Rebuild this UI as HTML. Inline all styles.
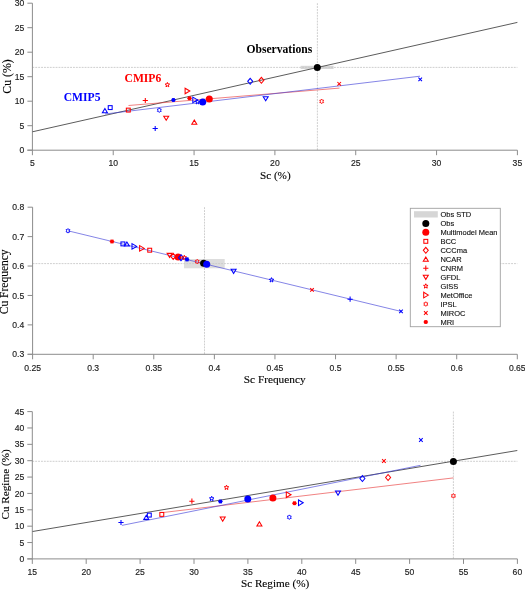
<!DOCTYPE html>
<html><head><meta charset="utf-8"><style>
html,body{margin:0;padding:0;background:#fff;width:525px;height:590px;overflow:hidden}
svg{display:block;will-change:transform}
</style></head><body>
<svg width="525" height="590" viewBox="0 0 525 590">
<defs>
<symbol id="sq" overflow="visible"><rect x="-1.95" y="-1.95" width="3.9" height="3.9" fill="none" stroke="currentColor" stroke-width="1.05"/></symbol>
<symbol id="di" overflow="visible"><polygon points="0,-3 2.5,0 0,3 -2.5,0" fill="none" stroke="currentColor" stroke-width="1.05"/></symbol>
<symbol id="tu" overflow="visible"><polygon points="0,-2.2 2.5,1.95 -2.5,1.95" fill="none" stroke="currentColor" stroke-width="1.05"/></symbol>
<symbol id="td" overflow="visible"><polygon points="0,2.2 2.5,-1.95 -2.5,-1.95" fill="none" stroke="currentColor" stroke-width="1.05"/></symbol>
<symbol id="tr" overflow="visible"><polygon points="2.6,0 -2.1,-2.8 -2.1,2.8" fill="none" stroke="currentColor" stroke-width="1.05"/></symbol>
<symbol id="pl" overflow="visible"><path d="M-2.6,0H2.6M0,-2.6V2.6" stroke="currentColor" stroke-width="1.05"/></symbol>
<symbol id="xx" overflow="visible"><path d="M-1.8,-1.8L1.8,1.8M-1.8,1.8L1.8,-1.8" stroke="currentColor" stroke-width="1.05"/></symbol>
<symbol id="st" overflow="visible"><path d="M0,-2.35 L0.62,-0.8 L2.25,-0.74 L1.0,0.35 L1.42,2.0 L0,1.12 L-1.42,2.0 L-1.0,0.35 L-2.25,-0.74 L-0.62,-0.8Z" fill="none" stroke="currentColor" stroke-width="1"/></symbol>
<symbol id="hx" overflow="visible"><path d="M0,-2.3 L0.7,-1.2 L1.95,-1.2 L1.35,0 L1.95,1.2 L0.7,1.2 L0,2.3 L-0.7,1.2 L-1.95,1.2 L-1.35,0 L-1.95,-1.2 L-0.7,-1.2Z" fill="none" stroke="currentColor" stroke-width="0.85"/></symbol>
<symbol id="as" overflow="visible"><circle r="2.05" fill="currentColor"/><path d="M-2.3,0H2.3M-1.15,-2L1.15,2M-1.15,2L1.15,-2" stroke="currentColor" stroke-width="0.6"/></symbol>
<symbol id="fc" overflow="visible"><circle r="3.5" fill="currentColor"/></symbol>
</defs>
<rect width="525" height="590" fill="#fff"/>
<rect x="300.6" y="65.8" width="33" height="3.2" fill="#d6d6d6"/>
<path d="M32.4,67.4H517.4" stroke="#cacaca" stroke-width="0.9" stroke-dasharray="1.9,1"/>
<path d="M317.4,3.2V150.2" stroke="#cacaca" stroke-width="0.9" stroke-dasharray="1.9,1"/>
<path d="M32.4,3.2V150.2M27.4,150.2H517.4" stroke="#8c8c8c" stroke-width="1" fill="none"/>
<path d="M27.4,150.2H32.4" stroke="#8c8c8c" stroke-width="1"/>
<path d="M27.4,125.69999999999999H32.4" stroke="#8c8c8c" stroke-width="1"/>
<path d="M27.4,101.19999999999999H32.4" stroke="#8c8c8c" stroke-width="1"/>
<path d="M27.4,76.69999999999999H32.4" stroke="#8c8c8c" stroke-width="1"/>
<path d="M27.4,52.19999999999999H32.4" stroke="#8c8c8c" stroke-width="1"/>
<path d="M27.4,27.69999999999999H32.4" stroke="#8c8c8c" stroke-width="1"/>
<path d="M27.4,3.1999999999999886H32.4" stroke="#8c8c8c" stroke-width="1"/>
<path d="M32.4,150.2V155.2" stroke="#8c8c8c" stroke-width="1"/>
<path d="M113.23333333333332,150.2V155.2" stroke="#8c8c8c" stroke-width="1"/>
<path d="M194.06666666666666,150.2V155.2" stroke="#8c8c8c" stroke-width="1"/>
<path d="M274.9,150.2V155.2" stroke="#8c8c8c" stroke-width="1"/>
<path d="M355.7333333333333,150.2V155.2" stroke="#8c8c8c" stroke-width="1"/>
<path d="M436.5666666666666,150.2V155.2" stroke="#8c8c8c" stroke-width="1"/>
<path d="M517.4,150.2V155.2" stroke="#8c8c8c" stroke-width="1"/>
<text x="32.4" y="166.2" font-family='"Liberation Sans", sans-serif' font-size="8.6" text-anchor="middle" fill="#222" font-weight="normal" stroke="#222" stroke-width="0.15" >5</text>
<text x="113.23333333333332" y="166.2" font-family='"Liberation Sans", sans-serif' font-size="8.6" text-anchor="middle" fill="#222" font-weight="normal" stroke="#222" stroke-width="0.15" >10</text>
<text x="194.06666666666666" y="166.2" font-family='"Liberation Sans", sans-serif' font-size="8.6" text-anchor="middle" fill="#222" font-weight="normal" stroke="#222" stroke-width="0.15" >15</text>
<text x="274.9" y="166.2" font-family='"Liberation Sans", sans-serif' font-size="8.6" text-anchor="middle" fill="#222" font-weight="normal" stroke="#222" stroke-width="0.15" >20</text>
<text x="355.7333333333333" y="166.2" font-family='"Liberation Sans", sans-serif' font-size="8.6" text-anchor="middle" fill="#222" font-weight="normal" stroke="#222" stroke-width="0.15" >25</text>
<text x="436.5666666666666" y="166.2" font-family='"Liberation Sans", sans-serif' font-size="8.6" text-anchor="middle" fill="#222" font-weight="normal" stroke="#222" stroke-width="0.15" >30</text>
<text x="517.4" y="166.2" font-family='"Liberation Sans", sans-serif' font-size="8.6" text-anchor="middle" fill="#222" font-weight="normal" stroke="#222" stroke-width="0.15" >35</text>
<text x="24.2" y="153.29999999999998" font-family='"Liberation Sans", sans-serif' font-size="8.6" text-anchor="end" fill="#222" font-weight="normal" stroke="#222" stroke-width="0.15" >0</text>
<text x="24.2" y="128.79999999999998" font-family='"Liberation Sans", sans-serif' font-size="8.6" text-anchor="end" fill="#222" font-weight="normal" stroke="#222" stroke-width="0.15" >5</text>
<text x="24.2" y="104.29999999999998" font-family='"Liberation Sans", sans-serif' font-size="8.6" text-anchor="end" fill="#222" font-weight="normal" stroke="#222" stroke-width="0.15" >10</text>
<text x="24.2" y="79.79999999999998" font-family='"Liberation Sans", sans-serif' font-size="8.6" text-anchor="end" fill="#222" font-weight="normal" stroke="#222" stroke-width="0.15" >15</text>
<text x="24.2" y="55.29999999999999" font-family='"Liberation Sans", sans-serif' font-size="8.6" text-anchor="end" fill="#222" font-weight="normal" stroke="#222" stroke-width="0.15" >20</text>
<text x="24.2" y="30.79999999999999" font-family='"Liberation Sans", sans-serif' font-size="8.6" text-anchor="end" fill="#222" font-weight="normal" stroke="#222" stroke-width="0.15" >25</text>
<text x="24.2" y="6.299999999999988" font-family='"Liberation Sans", sans-serif' font-size="8.6" text-anchor="end" fill="#222" font-weight="normal" stroke="#222" stroke-width="0.15" >30</text>
<path d="M32.4,131.8L517.4,22.4" stroke="#5c5c5c" stroke-width="1"/>
<path d="M128.5,105.5L339.5,88.1" stroke="#e83a3a" stroke-width="0.8" stroke-opacity="0.8"/>
<path d="M105,114L420,76.2" stroke="#3f3fd8" stroke-width="0.8" stroke-opacity="0.8"/>
<use href="#tu" x="104.9" y="110.7" color="#0000ff"/>
<use href="#sq" x="110.2" y="107.6" color="#0000ff"/>
<use href="#sq" x="128.3" y="110.1" color="#ff0000"/>
<use href="#pl" x="145.3" y="100.5" color="#ff0000"/>
<use href="#hx" x="159.3" y="110.2" color="#0000ff"/>
<use href="#pl" x="155.2" y="128.5" color="#0000ff"/>
<use href="#td" x="166.2" y="118.1" color="#ff0000"/>
<use href="#st" x="167.4" y="84.8" color="#ff0000"/>
<use href="#as" x="173.4" y="100" color="#0000ff"/>
<use href="#tr" x="187.2" y="91" color="#ff0000"/>
<use href="#as" x="189.5" y="98.3" color="#ff0000"/>
<use href="#tu" x="194.3" y="122.3" color="#ff0000"/>
<use href="#tr" x="194.9" y="99.9" color="#0000ff"/>
<use href="#st" x="197.5" y="102" color="#0000ff"/>
<use href="#fc" x="202.7" y="102.1" color="#0000ff"/>
<use href="#fc" x="209.3" y="99" color="#ff0000"/>
<use href="#di" x="250.2" y="81.3" color="#0000ff"/>
<use href="#di" x="261.4" y="80.3" color="#ff0000"/>
<use href="#td" x="265.7" y="98.6" color="#0000ff"/>
<use href="#xx" x="339.2" y="83.8" color="#ff0000"/>
<use href="#hx" x="321.7" y="101.4" color="#ff0000"/>
<use href="#xx" x="420.2" y="79.4" color="#0000ff"/>
<use href="#fc" x="317.3" y="67.4" color="#000"/>
<text x="279.3" y="52.5" font-family='"Liberation Serif", serif' font-size="11.6" text-anchor="middle" fill="#000" font-weight="bold" >Observations</text>
<text x="142.9" y="81.6" font-family='"Liberation Serif", serif' font-size="11.6" text-anchor="middle" fill="#ff0000" font-weight="bold" >CMIP6</text>
<text x="82.1" y="101" font-family='"Liberation Serif", serif' font-size="11.6" text-anchor="middle" fill="#0000ff" font-weight="bold" >CMIP5</text>
<text x="275.3" y="179" font-family='"Liberation Serif", serif' font-size="11.2" text-anchor="middle" fill="#000" font-weight="normal" stroke="#000" stroke-width="0.12" >Sc (%)</text>
<text x="0" y="0" font-family='"Liberation Serif", serif' font-size="11.8" text-anchor="middle" fill="#000" font-weight="normal" stroke="#000" stroke-width="0.12" transform="translate(10.6,76.5) rotate(-90)">Cu (%)</text>
<rect x="184" y="259" width="40.7" height="9.3" fill="#dddddd"/>
<path d="M32.6,263.6H517.3" stroke="#cacaca" stroke-width="0.9" stroke-dasharray="1.9,1"/>
<path d="M204.5,207.2V354.3" stroke="#cacaca" stroke-width="0.9" stroke-dasharray="1.9,1"/>
<path d="M32.6,207.2V354.3M27.6,354.3H517.3" stroke="#8c8c8c" stroke-width="1" fill="none"/>
<path d="M27.6,354.3H32.6" stroke="#8c8c8c" stroke-width="1"/>
<path d="M27.6,324.88H32.6" stroke="#8c8c8c" stroke-width="1"/>
<path d="M27.6,295.46000000000004H32.6" stroke="#8c8c8c" stroke-width="1"/>
<path d="M27.6,266.04H32.6" stroke="#8c8c8c" stroke-width="1"/>
<path d="M27.6,236.62H32.6" stroke="#8c8c8c" stroke-width="1"/>
<path d="M27.6,207.20000000000002H32.6" stroke="#8c8c8c" stroke-width="1"/>
<path d="M32.6,354.3V359.3" stroke="#8c8c8c" stroke-width="1"/>
<path d="M93.1875,354.3V359.3" stroke="#8c8c8c" stroke-width="1"/>
<path d="M153.775,354.3V359.3" stroke="#8c8c8c" stroke-width="1"/>
<path d="M214.36249999999998,354.3V359.3" stroke="#8c8c8c" stroke-width="1"/>
<path d="M274.95,354.3V359.3" stroke="#8c8c8c" stroke-width="1"/>
<path d="M335.5375,354.3V359.3" stroke="#8c8c8c" stroke-width="1"/>
<path d="M396.125,354.3V359.3" stroke="#8c8c8c" stroke-width="1"/>
<path d="M456.71250000000003,354.3V359.3" stroke="#8c8c8c" stroke-width="1"/>
<path d="M517.3,354.3V359.3" stroke="#8c8c8c" stroke-width="1"/>
<text x="32.6" y="370.8" font-family='"Liberation Sans", sans-serif' font-size="8.6" text-anchor="middle" fill="#222" font-weight="normal" stroke="#222" stroke-width="0.15" >0.25</text>
<text x="93.1875" y="370.8" font-family='"Liberation Sans", sans-serif' font-size="8.6" text-anchor="middle" fill="#222" font-weight="normal" stroke="#222" stroke-width="0.15" >0.3</text>
<text x="153.775" y="370.8" font-family='"Liberation Sans", sans-serif' font-size="8.6" text-anchor="middle" fill="#222" font-weight="normal" stroke="#222" stroke-width="0.15" >0.35</text>
<text x="214.36249999999998" y="370.8" font-family='"Liberation Sans", sans-serif' font-size="8.6" text-anchor="middle" fill="#222" font-weight="normal" stroke="#222" stroke-width="0.15" >0.4</text>
<text x="274.95" y="370.8" font-family='"Liberation Sans", sans-serif' font-size="8.6" text-anchor="middle" fill="#222" font-weight="normal" stroke="#222" stroke-width="0.15" >0.45</text>
<text x="335.5375" y="370.8" font-family='"Liberation Sans", sans-serif' font-size="8.6" text-anchor="middle" fill="#222" font-weight="normal" stroke="#222" stroke-width="0.15" >0.5</text>
<text x="396.125" y="370.8" font-family='"Liberation Sans", sans-serif' font-size="8.6" text-anchor="middle" fill="#222" font-weight="normal" stroke="#222" stroke-width="0.15" >0.55</text>
<text x="456.71250000000003" y="370.8" font-family='"Liberation Sans", sans-serif' font-size="8.6" text-anchor="middle" fill="#222" font-weight="normal" stroke="#222" stroke-width="0.15" >0.6</text>
<text x="517.3" y="370.8" font-family='"Liberation Sans", sans-serif' font-size="8.6" text-anchor="middle" fill="#222" font-weight="normal" stroke="#222" stroke-width="0.15" >0.65</text>
<text x="24.2" y="357.40000000000003" font-family='"Liberation Sans", sans-serif' font-size="8.6" text-anchor="end" fill="#222" font-weight="normal" stroke="#222" stroke-width="0.15" >0.3</text>
<text x="24.2" y="327.98" font-family='"Liberation Sans", sans-serif' font-size="8.6" text-anchor="end" fill="#222" font-weight="normal" stroke="#222" stroke-width="0.15" >0.4</text>
<text x="24.2" y="298.56000000000006" font-family='"Liberation Sans", sans-serif' font-size="8.6" text-anchor="end" fill="#222" font-weight="normal" stroke="#222" stroke-width="0.15" >0.5</text>
<text x="24.2" y="269.14000000000004" font-family='"Liberation Sans", sans-serif' font-size="8.6" text-anchor="end" fill="#222" font-weight="normal" stroke="#222" stroke-width="0.15" >0.6</text>
<text x="24.2" y="239.72" font-family='"Liberation Sans", sans-serif' font-size="8.6" text-anchor="end" fill="#222" font-weight="normal" stroke="#222" stroke-width="0.15" >0.7</text>
<text x="24.2" y="210.3" font-family='"Liberation Sans", sans-serif' font-size="8.6" text-anchor="end" fill="#222" font-weight="normal" stroke="#222" stroke-width="0.15" >0.8</text>
<path d="M68,230.8L401,311.4" stroke="#3f3fd8" stroke-width="0.8" stroke-opacity="0.8"/>
<use href="#hx" x="68" y="230.8" color="#0000ff"/>
<use href="#as" x="112" y="241.5" color="#ff0000"/>
<use href="#sq" x="122.9" y="243.9" color="#0000ff"/>
<use href="#tu" x="126.9" y="244.1" color="#0000ff"/>
<use href="#tr" x="134.1" y="246.4" color="#0000ff"/>
<use href="#tr" x="141.7" y="248.4" color="#ff0000"/>
<use href="#sq" x="149.7" y="250.2" color="#ff0000"/>
<use href="#td" x="169.6" y="255.3" color="#ff0000"/>
<use href="#di" x="173.2" y="256.4" color="#ff0000"/>
<use href="#fc" x="178.1" y="257.1" color="#ff0000"/>
<use href="#di" x="181" y="257.7" color="#0000ff"/>
<use href="#st" x="184.3" y="257.6" color="#ff0000"/>
<use href="#as" x="187" y="259.4" color="#0000ff"/>
<use href="#hx" x="197.2" y="261.6" color="#ff0000"/>
<use href="#fc" x="203.6" y="263.3" color="#000"/>
<use href="#fc" x="206.7" y="264.3" color="#0000ff"/>
<use href="#td" x="233.6" y="271.2" color="#0000ff"/>
<use href="#st" x="271.5" y="280" color="#0000ff"/>
<use href="#xx" x="312" y="289.9" color="#ff0000"/>
<use href="#pl" x="350.1" y="299.2" color="#0000ff"/>
<use href="#xx" x="401" y="311.4" color="#0000ff"/>
<text x="274.7" y="383.2" font-family='"Liberation Serif", serif' font-size="11.3" text-anchor="middle" fill="#000" font-weight="normal" stroke="#000" stroke-width="0.12" >Sc Frequency</text>
<text x="0" y="0" font-family='"Liberation Serif", serif' font-size="11.5" text-anchor="middle" fill="#000" font-weight="normal" stroke="#000" stroke-width="0.12" transform="translate(8.3,281.8) rotate(-90)">Cu Frequency</text>
<rect x="410.3" y="208.3" width="90" height="118.4" fill="#fff" stroke="#a0a0a0" stroke-width="0.9"/>
<rect x="414" y="211.2" width="23.8" height="6.3" fill="#d6d6d6"/>
<text x="440.4" y="217.14999999999998" font-family='"Liberation Sans", sans-serif' font-size="7.5" text-anchor="start" fill="#111" font-weight="normal" stroke="#111" stroke-width="0.12" >Obs STD</text>
<use href="#fc" x="425.8" y="223.41" color="#000"/>
<text x="440.4" y="226.10999999999999" font-family='"Liberation Sans", sans-serif' font-size="7.5" text-anchor="start" fill="#111" font-weight="normal" stroke="#111" stroke-width="0.12" >Obs</text>
<use href="#fc" x="425.8" y="232.37" color="#ff0000"/>
<text x="440.4" y="235.07" font-family='"Liberation Sans", sans-serif' font-size="7.5" text-anchor="start" fill="#111" font-weight="normal" stroke="#111" stroke-width="0.12" >Multimodel Mean</text>
<use href="#sq" x="425.8" y="241.32999999999998" color="#ff0000"/>
<text x="440.4" y="244.02999999999997" font-family='"Liberation Sans", sans-serif' font-size="7.5" text-anchor="start" fill="#111" font-weight="normal" stroke="#111" stroke-width="0.12" >BCC</text>
<use href="#di" x="425.8" y="250.29" color="#ff0000"/>
<text x="440.4" y="252.98999999999998" font-family='"Liberation Sans", sans-serif' font-size="7.5" text-anchor="start" fill="#111" font-weight="normal" stroke="#111" stroke-width="0.12" >CCCma</text>
<use href="#tu" x="425.8" y="259.25" color="#ff0000"/>
<text x="440.4" y="261.95" font-family='"Liberation Sans", sans-serif' font-size="7.5" text-anchor="start" fill="#111" font-weight="normal" stroke="#111" stroke-width="0.12" >NCAR</text>
<use href="#pl" x="425.8" y="268.21" color="#ff0000"/>
<text x="440.4" y="270.90999999999997" font-family='"Liberation Sans", sans-serif' font-size="7.5" text-anchor="start" fill="#111" font-weight="normal" stroke="#111" stroke-width="0.12" >CNRM</text>
<use href="#td" x="425.8" y="277.17" color="#ff0000"/>
<text x="440.4" y="279.87" font-family='"Liberation Sans", sans-serif' font-size="7.5" text-anchor="start" fill="#111" font-weight="normal" stroke="#111" stroke-width="0.12" >GFDL</text>
<use href="#st" x="425.8" y="286.13" color="#ff0000"/>
<text x="440.4" y="288.83" font-family='"Liberation Sans", sans-serif' font-size="7.5" text-anchor="start" fill="#111" font-weight="normal" stroke="#111" stroke-width="0.12" >GISS</text>
<use href="#tr" x="425.8" y="295.09000000000003" color="#ff0000"/>
<text x="440.4" y="297.79" font-family='"Liberation Sans", sans-serif' font-size="7.5" text-anchor="start" fill="#111" font-weight="normal" stroke="#111" stroke-width="0.12" >MetOffice</text>
<use href="#hx" x="425.8" y="304.05" color="#ff0000"/>
<text x="440.4" y="306.75" font-family='"Liberation Sans", sans-serif' font-size="7.5" text-anchor="start" fill="#111" font-weight="normal" stroke="#111" stroke-width="0.12" >IPSL</text>
<use href="#xx" x="425.8" y="313.01" color="#ff0000"/>
<text x="440.4" y="315.71" font-family='"Liberation Sans", sans-serif' font-size="7.5" text-anchor="start" fill="#111" font-weight="normal" stroke="#111" stroke-width="0.12" >MIROC</text>
<use href="#as" x="425.8" y="321.97" color="#ff0000"/>
<text x="440.4" y="324.67" font-family='"Liberation Sans", sans-serif' font-size="7.5" text-anchor="start" fill="#111" font-weight="normal" stroke="#111" stroke-width="0.12" >MRI</text>
<path d="M32.3,461.3H517.4" stroke="#cacaca" stroke-width="0.9" stroke-dasharray="1.9,1"/>
<path d="M453.4,411.6V558.9" stroke="#cacaca" stroke-width="0.9" stroke-dasharray="1.9,1"/>
<path d="M32.3,411.6V558.9M27.299999999999997,558.9H517.4" stroke="#8c8c8c" stroke-width="1" fill="none"/>
<path d="M27.299999999999997,558.9H32.3" stroke="#8c8c8c" stroke-width="1"/>
<path d="M27.299999999999997,542.5333333333333H32.3" stroke="#8c8c8c" stroke-width="1"/>
<path d="M27.299999999999997,526.1666666666666H32.3" stroke="#8c8c8c" stroke-width="1"/>
<path d="M27.299999999999997,509.79999999999995H32.3" stroke="#8c8c8c" stroke-width="1"/>
<path d="M27.299999999999997,493.4333333333333H32.3" stroke="#8c8c8c" stroke-width="1"/>
<path d="M27.299999999999997,477.0666666666666H32.3" stroke="#8c8c8c" stroke-width="1"/>
<path d="M27.299999999999997,460.7H32.3" stroke="#8c8c8c" stroke-width="1"/>
<path d="M27.299999999999997,444.3333333333333H32.3" stroke="#8c8c8c" stroke-width="1"/>
<path d="M27.299999999999997,427.96666666666664H32.3" stroke="#8c8c8c" stroke-width="1"/>
<path d="M27.299999999999997,411.59999999999997H32.3" stroke="#8c8c8c" stroke-width="1"/>
<path d="M32.3,558.9V563.9" stroke="#8c8c8c" stroke-width="1"/>
<path d="M86.2,558.9V563.9" stroke="#8c8c8c" stroke-width="1"/>
<path d="M140.10000000000002,558.9V563.9" stroke="#8c8c8c" stroke-width="1"/>
<path d="M194.0,558.9V563.9" stroke="#8c8c8c" stroke-width="1"/>
<path d="M247.90000000000003,558.9V563.9" stroke="#8c8c8c" stroke-width="1"/>
<path d="M301.8,558.9V563.9" stroke="#8c8c8c" stroke-width="1"/>
<path d="M355.70000000000005,558.9V563.9" stroke="#8c8c8c" stroke-width="1"/>
<path d="M409.6000000000001,558.9V563.9" stroke="#8c8c8c" stroke-width="1"/>
<path d="M463.50000000000006,558.9V563.9" stroke="#8c8c8c" stroke-width="1"/>
<path d="M517.4,558.9V563.9" stroke="#8c8c8c" stroke-width="1"/>
<text x="32.3" y="575" font-family='"Liberation Sans", sans-serif' font-size="8.6" text-anchor="middle" fill="#222" font-weight="normal" stroke="#222" stroke-width="0.15" >15</text>
<text x="86.2" y="575" font-family='"Liberation Sans", sans-serif' font-size="8.6" text-anchor="middle" fill="#222" font-weight="normal" stroke="#222" stroke-width="0.15" >20</text>
<text x="140.10000000000002" y="575" font-family='"Liberation Sans", sans-serif' font-size="8.6" text-anchor="middle" fill="#222" font-weight="normal" stroke="#222" stroke-width="0.15" >25</text>
<text x="194.0" y="575" font-family='"Liberation Sans", sans-serif' font-size="8.6" text-anchor="middle" fill="#222" font-weight="normal" stroke="#222" stroke-width="0.15" >30</text>
<text x="247.90000000000003" y="575" font-family='"Liberation Sans", sans-serif' font-size="8.6" text-anchor="middle" fill="#222" font-weight="normal" stroke="#222" stroke-width="0.15" >35</text>
<text x="301.8" y="575" font-family='"Liberation Sans", sans-serif' font-size="8.6" text-anchor="middle" fill="#222" font-weight="normal" stroke="#222" stroke-width="0.15" >40</text>
<text x="355.70000000000005" y="575" font-family='"Liberation Sans", sans-serif' font-size="8.6" text-anchor="middle" fill="#222" font-weight="normal" stroke="#222" stroke-width="0.15" >45</text>
<text x="409.6000000000001" y="575" font-family='"Liberation Sans", sans-serif' font-size="8.6" text-anchor="middle" fill="#222" font-weight="normal" stroke="#222" stroke-width="0.15" >50</text>
<text x="463.50000000000006" y="575" font-family='"Liberation Sans", sans-serif' font-size="8.6" text-anchor="middle" fill="#222" font-weight="normal" stroke="#222" stroke-width="0.15" >55</text>
<text x="517.4" y="575" font-family='"Liberation Sans", sans-serif' font-size="8.6" text-anchor="middle" fill="#222" font-weight="normal" stroke="#222" stroke-width="0.15" >60</text>
<text x="24.2" y="562.0" font-family='"Liberation Sans", sans-serif' font-size="8.6" text-anchor="end" fill="#222" font-weight="normal" stroke="#222" stroke-width="0.15" >0</text>
<text x="24.2" y="545.6333333333333" font-family='"Liberation Sans", sans-serif' font-size="8.6" text-anchor="end" fill="#222" font-weight="normal" stroke="#222" stroke-width="0.15" >5</text>
<text x="24.2" y="529.2666666666667" font-family='"Liberation Sans", sans-serif' font-size="8.6" text-anchor="end" fill="#222" font-weight="normal" stroke="#222" stroke-width="0.15" >10</text>
<text x="24.2" y="512.9" font-family='"Liberation Sans", sans-serif' font-size="8.6" text-anchor="end" fill="#222" font-weight="normal" stroke="#222" stroke-width="0.15" >15</text>
<text x="24.2" y="496.5333333333333" font-family='"Liberation Sans", sans-serif' font-size="8.6" text-anchor="end" fill="#222" font-weight="normal" stroke="#222" stroke-width="0.15" >20</text>
<text x="24.2" y="480.16666666666663" font-family='"Liberation Sans", sans-serif' font-size="8.6" text-anchor="end" fill="#222" font-weight="normal" stroke="#222" stroke-width="0.15" >25</text>
<text x="24.2" y="463.8" font-family='"Liberation Sans", sans-serif' font-size="8.6" text-anchor="end" fill="#222" font-weight="normal" stroke="#222" stroke-width="0.15" >30</text>
<text x="24.2" y="447.43333333333334" font-family='"Liberation Sans", sans-serif' font-size="8.6" text-anchor="end" fill="#222" font-weight="normal" stroke="#222" stroke-width="0.15" >35</text>
<text x="24.2" y="431.06666666666666" font-family='"Liberation Sans", sans-serif' font-size="8.6" text-anchor="end" fill="#222" font-weight="normal" stroke="#222" stroke-width="0.15" >40</text>
<text x="24.2" y="414.7" font-family='"Liberation Sans", sans-serif' font-size="8.6" text-anchor="end" fill="#222" font-weight="normal" stroke="#222" stroke-width="0.15" >45</text>
<path d="M32.5,531.5L517.3,450.5" stroke="#5c5c5c" stroke-width="1"/>
<path d="M164.1,512.4L453.4,477.9" stroke="#e83a3a" stroke-width="0.8" stroke-opacity="0.8"/>
<path d="M121.9,525.4L420.5,465.3" stroke="#3f3fd8" stroke-width="0.8" stroke-opacity="0.8"/>
<use href="#pl" x="121" y="522.5" color="#0000ff"/>
<use href="#tu" x="146.3" y="517.4" color="#0000ff"/>
<use href="#sq" x="149.3" y="515.1" color="#0000ff"/>
<use href="#sq" x="161.8" y="514.4" color="#ff0000"/>
<use href="#pl" x="191.9" y="501.2" color="#ff0000"/>
<use href="#st" x="211.7" y="498.6" color="#0000ff"/>
<use href="#as" x="220.4" y="501.5" color="#0000ff"/>
<use href="#st" x="226.5" y="487.5" color="#ff0000"/>
<use href="#td" x="222.7" y="519" color="#ff0000"/>
<use href="#fc" x="247.8" y="499" color="#0000ff"/>
<use href="#tu" x="259.4" y="524" color="#ff0000"/>
<use href="#fc" x="272.9" y="497.9" color="#ff0000"/>
<use href="#tr" x="288.4" y="494.7" color="#ff0000"/>
<use href="#as" x="294.5" y="503.2" color="#ff0000"/>
<use href="#tr" x="300.6" y="502.8" color="#0000ff"/>
<use href="#hx" x="289.3" y="517.2" color="#0000ff"/>
<use href="#td" x="338" y="493" color="#0000ff"/>
<use href="#di" x="362.4" y="478.5" color="#0000ff"/>
<use href="#di" x="388.1" y="477.5" color="#ff0000"/>
<use href="#xx" x="383.9" y="461" color="#ff0000"/>
<use href="#xx" x="420.9" y="440" color="#0000ff"/>
<use href="#fc" x="453.4" y="461.5" color="#000"/>
<use href="#hx" x="453.4" y="495.9" color="#ff0000"/>
<text x="275.1" y="587.4" font-family='"Liberation Serif", serif' font-size="11.2" text-anchor="middle" fill="#000" font-weight="normal" stroke="#000" stroke-width="0.12" >Sc Regime (%)</text>
<text x="0" y="0" font-family='"Liberation Serif", serif' font-size="11.2" text-anchor="middle" fill="#000" font-weight="normal" stroke="#000" stroke-width="0.12" transform="translate(9.4,484.4) rotate(-90)">Cu Regime (%)</text>
</svg>
</body></html>
